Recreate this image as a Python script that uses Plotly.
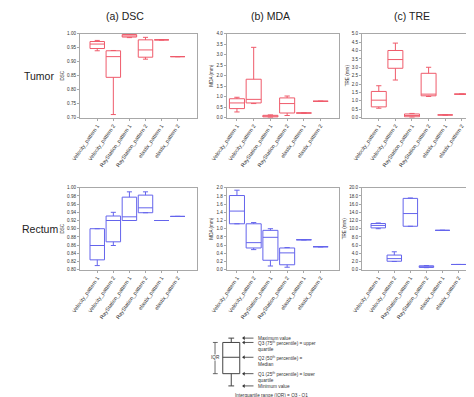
import plotly.graph_objects as go

categories = ["Velocity_pattern 1", "Velocity_pattern 2", "RayStation_pattern 1",
              "RayStation_pattern 2", "elastix_pattern 1", "elastix_pattern 2"]

# ---- Tumor DSC ----
tumor_dsc_lower = [0.939, 0.711, 0.986, 0.909, 0.978, 0.918]
tumor_dsc_q1 = [0.947, 0.844, 0.988, 0.916, 0.978, 0.918]
tumor_dsc_median = [0.963, 0.918, 0.992, 0.942, 0.978, 0.918]
tumor_dsc_q3 = [0.972, 0.939, 0.997, 0.978, 0.978, 0.918]
tumor_dsc_upper = [0.976, 0.940, 1.000, 0.987, 0.978, 0.918]

# ---- Tumor MDA (mm) ----
tumor_mda_lower = [0.27, 0.67, 0.02, 0.10, 0.22, 0.78]
tumor_mda_q1 = [0.43, 0.70, 0.03, 0.22, 0.22, 0.78]
tumor_mda_median = [0.70, 0.87, 0.07, 0.67, 0.22, 0.78]
tumor_mda_q3 = [0.90, 1.83, 0.11, 0.94, 0.22, 0.78]
tumor_mda_upper = [0.97, 3.35, 0.13, 1.03, 0.22, 0.78]

# ---- Tumor TRE (mm) ----
tumor_tre_lower = [0.56, 2.24, 0.03, 1.26, 0.16, 1.40]
tumor_tre_q1 = [0.64, 2.94, 0.05, 1.30, 0.16, 1.40]
tumor_tre_median = [1.04, 3.46, 0.13, 1.40, 0.16, 1.40]
tumor_tre_q3 = [1.56, 4.00, 0.22, 2.64, 0.16, 1.40]
tumor_tre_upper = [1.90, 4.44, 0.25, 3.00, 0.16, 1.40]

# ---- Rectum DSC ----
rectum_dsc_lower = [0.810, 0.859, 0.920, 0.939, 0.920, 0.930]
rectum_dsc_q1 = [0.824, 0.868, 0.920, 0.939, 0.920, 0.930]
rectum_dsc_median = [0.859, 0.920, 0.929, 0.951, 0.920, 0.930]
rectum_dsc_q3 = [0.900, 0.931, 0.977, 0.982, 0.920, 0.930]
rectum_dsc_upper = [0.900, 0.940, 0.990, 0.990, 0.920, 0.930]

# ---- Rectum MDA (mm) ----
rectum_mda_lower = [1.12, 0.49, 0.09, 0.06, 0.73, 0.56]
rectum_mda_q1 = [1.12, 0.53, 0.23, 0.12, 0.73, 0.56]
rectum_mda_median = [1.43, 0.66, 0.79, 0.41, 0.73, 0.56]
rectum_mda_q3 = [1.81, 1.12, 0.96, 0.53, 0.73, 0.56]
rectum_mda_upper = [1.94, 1.15, 1.00, 0.54, 0.73, 0.56]

# ---- Rectum TRE (mm) ----
rectum_tre_lower = [10.0, 2.00, 10.6, 0.50, 9.6, 1.27]
rectum_tre_q1 = [10.2, 2.06, 10.6, 0.55, 9.6, 1.27]
rectum_tre_median = [10.8, 2.70, 13.7, 0.70, 9.6, 1.27]
rectum_tre_q3 = [11.27, 3.57, 17.4, 0.95, 9.6, 1.27]
rectum_tre_upper = [11.4, 4.37, 17.5, 1.00, 9.6, 1.27]

# ---- Explanatory (schematic) box in the key ----
key_stats = [0, 12.4, 29, 44, 48.4]  # min, Q1, median, Q3, max (schematic units)
key_labels = ["Minimum value",
              "Q1 (25<sup>th</sup> percentile) = lower<br>quartile",
              "Q2 (50<sup>th</sup> percentile) =<br>Median",
              "Q3 (75<sup>th</sup> percentile) = upper<br>quartile",
              "Maximum value"]

W, H = 474, 397
RED = "#ef5b6b"
BLUE = "#6464ec"
FRAME = "#a8a8a8"
FONT = "Arial"
KEYFONT = 4.7


def xd(a, b):
    return [a / W, b / W]


def yd(top, bottom):
    return [1 - bottom / H, 1 - top / H]


panels = [
    dict(s=(tumor_dsc_lower, tumor_dsc_q1, tumor_dsc_median, tumor_dsc_q3, tumor_dsc_upper),
         color=RED, xpx=(58, 179), ypx=(24, 109), xr=[-1.07, 6.2], yr=[0.70, 1.0], dt=0.05, fmt=".2f", t="DSC"),
    dict(s=(tumor_mda_lower, tumor_mda_q1, tumor_mda_median, tumor_mda_q3, tumor_mda_upper),
         color=RED, xpx=(210, 326), ypx=(24, 109), xr=[-0.6, 6.1], yr=[0, 4.0], dt=0.5, fmt=".1f", t="MDA (mm)"),
    dict(s=(tumor_tre_lower, tumor_tre_q1, tumor_tre_median, tumor_tre_q3, tumor_tre_upper),
         color=RED, xpx=(350, 472), ypx=(24, 109), xr=[-1.0, 6.1], yr=[0, 5.0], dt=0.5, fmt=".1f", t="TRE (mm)"),
    dict(s=(rectum_dsc_lower, rectum_dsc_q1, rectum_dsc_median, rectum_dsc_q3, rectum_dsc_upper),
         color=BLUE, xpx=(58, 179), ypx=(180, 263), xr=[-1.07, 6.2], yr=[0.80, 1.0], dt=0.02, fmt=".2f", t="DSC"),
    dict(s=(rectum_mda_lower, rectum_mda_q1, rectum_mda_median, rectum_mda_q3, rectum_mda_upper),
         color=BLUE, xpx=(210, 326), ypx=(180, 263), xr=[-0.6, 6.1], yr=[0, 2.0], dt=0.2, fmt=".1f", t="MDA (mm)"),
    dict(s=(rectum_tre_lower, rectum_tre_q1, rectum_tre_median, rectum_tre_q3, rectum_tre_upper),
         color=BLUE, xpx=(350, 468), ypx=(180, 263), xr=[-1.0, 6.1], yr=[0, 20.0], dt=2.0, fmt=".1f", t="TRE (mm)"),
]

fig = go.Figure()
layout = dict(width=W, height=H, margin=dict(l=0, r=0, t=0, b=0),
              paper_bgcolor="white", plot_bgcolor="white", showlegend=False,
              font=dict(family=FONT, color="#333333"))
annotations = []
shapes = []

for i, p in enumerate(panels, start=1):
    lo, q1, med, q3, up = p["s"]
    sx = "" if i == 1 else str(i)
    fig.add_trace(go.Box(
        x=list(range(len(categories))), lowerfence=lo, q1=q1, median=med, q3=q3, upperfence=up,
        xaxis="x" + sx, yaxis="y" + sx, width=0.9, whiskerwidth=0.35,
        line=dict(color=p["color"], width=1), fillcolor="rgba(0,0,0,0)",
        boxpoints=False, hoverinfo="skip"))
    layout["xaxis" + sx] = dict(
        domain=xd(*p["xpx"]), range=p["xr"], anchor="y" + sx,
        tickmode="array", tickvals=list(range(len(categories))), ticktext=categories,
        tickangle=-55, tickfont=dict(size=5.4, color="#333333"),
        showline=True, mirror=True, linecolor=FRAME, linewidth=1.2,
        ticks="outside", ticklen=2, tickcolor=FRAME, showgrid=False, zeroline=False)
    layout["yaxis" + sx] = dict(
        domain=yd(*p["ypx"]), range=p["yr"], anchor="x" + sx,
        dtick=p["dt"], tick0=0, tickformat=p["fmt"], tickfont=dict(size=4.6, color="#333333"),
        showline=True, mirror=True, linecolor=FRAME, linewidth=1.2,
        ticks="outside", ticklen=2, tickcolor=FRAME, showgrid=False, zeroline=False,
        title=dict(text=p["t"], font=dict(size=4.6, color="#333333"), standoff=2))

# ---- key axis (schematic box) ----
fig.add_trace(go.Box(
    x=[0], lowerfence=[key_stats[0]], q1=[key_stats[1]], median=[key_stats[2]],
    q3=[key_stats[3]], upperfence=[key_stats[4]], xaxis="x7", yaxis="y7",
    width=17.6, whiskerwidth=0.34, line=dict(color="#444444", width=1),
    fillcolor="rgba(0,0,0,0)", boxpoints=False, hoverinfo="skip"))
layout["xaxis7"] = dict(domain=xd(180, 320), range=[-34.5, 105.5], visible=False, anchor="y7")
layout["yaxis7"] = dict(domain=yd(325, 397), range=[-16.3, 55.7], visible=False, anchor="x7")

# pointer lines from the key texts to the box
ptr_x, ptr_y = [], []
for v in key_stats:
    ptr_x += [13, 23, None]
    ptr_y += [v, v, None]
fig.add_trace(go.Scatter(x=ptr_x, y=ptr_y, xaxis="x7", yaxis="y7", mode="lines",
                         line=dict(color="#333333", width=0.8), hoverinfo="skip"))
fig.add_trace(go.Scatter(x=[13] * len(key_stats), y=key_stats, xaxis="x7", yaxis="y7", mode="markers",
                         marker=dict(symbol="triangle-left", size=3.5, color="#333333"), hoverinfo="skip"))

for v, t in zip(key_stats, key_labels):
    two = "<br>" in t
    annotations.append(dict(xref="x7", yref="y7", x=26.5, y=v + (3.3 if two else -0.6), text=t,
                            showarrow=False, align="left", xanchor="left",
                            yanchor="top" if two else "middle", borderpad=0,
                            font=dict(size=KEYFONT, color="#333333")))

# IQR bracket
shapes.append(dict(type="line", xref="x7", yref="y7", x0=-16.8, x1=-16.8, y0=key_stats[1], y1=key_stats[3],
                   line=dict(color="#444444", width=0.8)))
for v in (key_stats[1], key_stats[3]):
    shapes.append(dict(type="line", xref="x7", yref="y7", x0=-19, x1=-14, y0=v, y1=v,
                       line=dict(color="#444444", width=0.8)))
annotations.append(dict(xref="x7", yref="y7", x=-16.8, y=key_stats[2], text="IQR", showarrow=False,
                        bgcolor="white", borderpad=0, font=dict(size=KEYFONT, color="#333333")))
annotations.append(dict(xref="x7", yref="y7", x=41.5, y=-9.6, text="Interquartile range (IQR) = Q3 - Q1",
                        showarrow=False, borderpad=0, font=dict(size=KEYFONT, color="#333333")))

# titles & row labels
for txt, x in (("(a) DSC", 105), ("(b) MDA", 255), ("(c) TRE", 402)):
    annotations.append(dict(xref="paper", yref="paper", x=x / W, y=1 - 6 / H, text=txt, showarrow=False,
                            xanchor="center", yanchor="middle", font=dict(size=10.5, color="#222222")))
for txt, x, y in (("Tumor", 15.5, 66.5), ("Rectum", 17, 221.5)):
    annotations.append(dict(xref="paper", yref="paper", x=x / W, y=1 - y / H, text=txt, showarrow=False,
                            xanchor="center", yanchor="middle", font=dict(size=10.5, color="#222222")))

layout["annotations"] = annotations
layout["shapes"] = shapes
fig.update_layout(**layout)
fig.write_html("out.html")
